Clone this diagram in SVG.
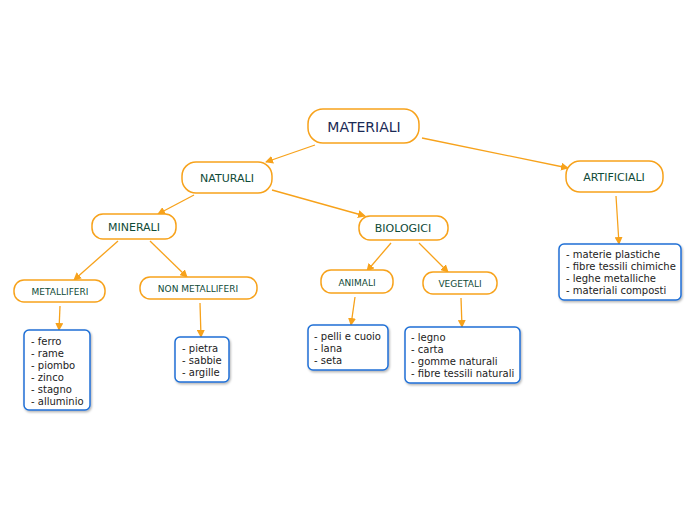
<svg xmlns="http://www.w3.org/2000/svg" width="696" height="520" viewBox="0 0 696 520">
<defs>
<marker id="ah" markerWidth="8" markerHeight="8" refX="7" refY="4" orient="auto" markerUnits="userSpaceOnUse"><path d="M0,0 L8,4 L0,8 z" fill="#f7a21b"/></marker>
<filter id="sh" x="-10%" y="-10%" width="130%" height="130%"><feDropShadow dx="1" dy="1.5" stdDeviation="1" flood-color="#000" flood-opacity="0.3"/></filter>
</defs>
<style>
.n{fill:#fff;stroke:#f7a21b;stroke-width:1.5}
.b{fill:#fff;stroke:#1f6fd6;stroke-width:1.5;filter:url(#sh)}
.t{font-family:"DejaVu Sans",sans-serif;fill:#0f4a37;text-anchor:middle}
.l{font-family:"DejaVu Sans",sans-serif;fill:#222;font-size:10px}
.c line{stroke:#f7a21b;stroke-width:1.3;marker-end:url(#ah)}
</style>
<rect width="696" height="520" fill="#fff"/>
<g class="c">
<line x1="315" y1="145" x2="266" y2="162"/>
<line x1="194" y1="195" x2="158" y2="214"/>
<line x1="272" y1="190" x2="365" y2="216"/>
<line x1="422" y1="138" x2="568" y2="168"/>
<line x1="118" y1="241" x2="74" y2="280"/>
<line x1="150" y1="241" x2="187" y2="277"/>
<line x1="60" y1="306" x2="59" y2="330"/>
<line x1="200" y1="303" x2="201" y2="337"/>
<line x1="391" y1="243" x2="367" y2="271"/>
<line x1="419" y1="243" x2="448" y2="272"/>
<line x1="355" y1="297" x2="351" y2="325"/>
<line x1="461" y1="298" x2="462" y2="327"/>
<line x1="616" y1="196" x2="619" y2="244"/>
</g>
<g id="materiali"><rect class="n" x="308" y="109" width="111" height="34" rx="15"/><text class="t" x="364" y="132" font-size="14" style="fill:#1a2a55">MATERIALI</text></g>
<g id="naturali"><rect class="n" x="182" y="162" width="90" height="31" rx="14"/><text class="t" x="227" y="182" font-size="11">NATURALI</text></g>
<g id="artificiali"><rect class="n" x="566" y="161" width="97" height="31" rx="14"/><text class="t" x="614" y="181" font-size="11">ARTIFICIALI</text></g>
<g id="minerali"><rect class="n" x="92" y="214" width="84" height="25" rx="11"/><text class="t" x="134" y="231" font-size="11">MINERALI</text></g>
<g id="biologici"><rect class="n" x="359" y="216" width="89" height="24" rx="11"/><text class="t" x="403" y="232" font-size="11">BIOLOGICI</text></g>
<g id="metalliferi"><rect class="n" x="14" y="280" width="91" height="22" rx="10"/><text class="t" x="60" y="295" font-size="9">METALLIFERI</text></g>
<g id="nonmetalliferi"><rect class="n" x="140" y="277" width="117" height="22" rx="10"/><text class="t" x="198" y="292" font-size="9">NON METALLIFERI</text></g>
<g id="animali"><rect class="n" x="321" y="270" width="72" height="23" rx="10"/><text class="t" x="357" y="286" font-size="9">ANIMALI</text></g>
<g id="vegetali"><rect class="n" x="423" y="272" width="74" height="22" rx="10"/><text class="t" x="460" y="287" font-size="9">VEGETALI</text></g>
<g id="ferro"><rect class="b" x="24" y="330" width="66" height="80" rx="5"/><text class="l" x="31" y="345"><tspan x="31">- ferro</tspan><tspan x="31" dy="12">- rame</tspan><tspan x="31" dy="12">- piombo</tspan><tspan x="31" dy="12">- zinco</tspan><tspan x="31" dy="12">- stagno</tspan><tspan x="31" dy="12">- alluminio</tspan></text></g>
<g id="pietra"><rect class="b" x="175" y="337" width="54" height="45" rx="5"/><text class="l" x="182" y="352"><tspan x="182">- pietra</tspan><tspan x="182" dy="12">- sabbie</tspan><tspan x="182" dy="12">- argille</tspan></text></g>
<g id="pelli"><rect class="b" x="308" y="325" width="80" height="45" rx="5"/><text class="l" x="314" y="340"><tspan x="314">- pelli e cuoio</tspan><tspan x="314" dy="12">- lana</tspan><tspan x="314" dy="12">- seta</tspan></text></g>
<g id="legno"><rect class="b" x="405" y="327" width="115" height="56" rx="5"/><text class="l" x="411" y="341"><tspan x="411">- legno</tspan><tspan x="411" dy="12">- carta</tspan><tspan x="411" dy="12">- gomme naturali</tspan><tspan x="411" dy="12">- fibre tessili naturali</tspan></text></g>
<g id="materie"><rect class="b" x="559" y="244" width="122" height="56" rx="5"/><text class="l" x="566" y="258"><tspan x="566">- materie plastiche</tspan><tspan x="566" dy="12">- fibre tessili chimiche</tspan><tspan x="566" dy="12">- leghe metalliche</tspan><tspan x="566" dy="12">- materiali composti</tspan></text></g>
</svg>
